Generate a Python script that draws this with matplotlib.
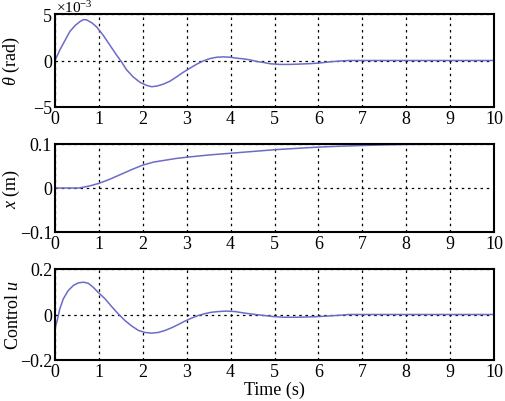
import numpy as np
import matplotlib
matplotlib.use('Agg')
import matplotlib.pyplot as plt
from matplotlib.ticker import FuncFormatter

plt.rcParams['font.family'] = ['Liberation Serif', 'DejaVu Serif']
plt.rcParams['mathtext.fontset'] = 'custom'
plt.rcParams['mathtext.rm'] = 'Liberation Serif'
plt.rcParams['mathtext.it'] = 'Liberation Serif:italic'
plt.rcParams['mathtext.bf'] = 'Liberation Serif:bold'
plt.rcParams['font.size'] = 13

# pendulum angle, in units of 1e-3 rad
t_theta = [0, 0.11, 0.23, 0.34, 0.46, 0.57, 0.65, 0.72, 0.84, 0.95, 1.1, 1.25, 1.4, 1.52, 1.63, 1.78,
           1.94, 2.09, 2.2, 2.32, 2.47, 2.62, 2.77, 2.92, 3.08, 3.23, 3.38, 3.53, 3.68, 3.83, 3.99, 4.14,
           4.29, 4.44, 4.59, 4.75, 4.9, 5.12, 5.35, 5.54, 5.8, 6.0, 6.25, 6.5, 6.7, 7, 8, 9, 10]
theta_milli = [0, 1.13, 2.18, 3.13, 3.77, 4.19, 4.4, 4.37, 4.05, 3.6, 2.7, 1.65, 0.6, -0.18, -1.0, -1.76,
               -2.36, -2.68, -2.82, -2.75, -2.54, -2.22, -1.76, -1.27, -0.81, -0.39, -0.04, 0.21, 0.35, 0.39,
               0.35, 0.25, 0.18, 0.07, -0.1, -0.21, -0.35, -0.42, -0.42, -0.39, -0.34, -0.28, -0.15, -0.05,
               0, 0, 0, 0, 0]

# cart position (m)
t_x = [0, 0.3, 0.55, 0.8, 1.0, 1.25, 1.5, 1.75, 2.0, 2.25, 2.5, 2.75, 3.0, 3.5, 4.0, 4.5, 5.0, 5.5, 6.0,
       6.5, 7.0, 7.5, 8.0, 8.5, 9.0, 9.5, 10.0]
x_pos = [0, 0, 0, 0.005, 0.0105, 0.02, 0.031, 0.042, 0.052, 0.059, 0.063, 0.067, 0.070, 0.075, 0.079, 0.083,
         0.087, 0.090, 0.093, 0.095, 0.0966, 0.098, 0.099, 0.0993, 0.0995, 0.0998, 0.1]

# control input
t_u = [0, 0.05, 0.11, 0.19, 0.3, 0.42, 0.53, 0.65, 0.76, 0.87, 0.98, 1.14, 1.29, 1.44, 1.59, 1.75, 1.9,
       2.05, 2.2, 2.35, 2.51, 2.66, 2.81, 2.96, 3.11, 3.27, 3.42, 3.57, 3.72, 3.91, 4.1, 4.29, 4.52, 4.75,
       4.97, 5.2, 5.54, 5.9, 6.2, 6.5, 6.7, 7, 8, 9, 10]
u = [-0.063, -0.026, 0.025, 0.069, 0.105, 0.128, 0.139, 0.142, 0.137, 0.12, 0.098, 0.069, 0.035, 0.003,
     -0.026, -0.051, -0.07, -0.079, -0.082, -0.079, -0.07, -0.058, -0.044, -0.029, -0.016, -0.004, 0.004,
     0.01, 0.013, 0.015, 0.013, 0.007, 0.001, -0.004, -0.009, -0.012, -0.012, -0.01, -0.007, -0.003, 0,
     0, 0, 0, 0]

line_color = '#6b6bc8'

fig = plt.figure(figsize=(5.05, 4.02), dpi=100)
W, H = 505.0, 402.0
left, right = 55, 494
boxes = [(15, 108), (145, 233), (270, 361)]
axes = [fig.add_axes([left / W, 1 - b / H, (right - left) / W, (b - t) / H]) for t, b in boxes]

axes[0].plot(t_theta, np.array(theta_milli) * 1e-3, color=line_color, lw=1.1)
axes[0].set_ylim(-0.005, 0.005)
axes[0].set_yticks([-0.005, 0, 0.005])
axes[0].yaxis.set_major_formatter(FuncFormatter(lambda v, pos: f'{v * 1e3:g}'.replace('-', '\u2212')))
axes[0].set_ylabel(r'$\theta$ (rad)')
fig.text(56 / W, 1.0, r'$\times10^{-3}$', fontsize=11, va='top', ha='left')

axes[1].plot(t_x, x_pos, color=line_color, lw=1.1)
axes[1].set_ylim(-0.1, 0.1)
axes[1].set_yticks([-0.1, 0, 0.1])
axes[1].set_yticklabels(['\u22120.1', '0', '0.1'])
axes[1].set_ylabel(r'$x$ (m)')

axes[2].plot(t_u, u, color=line_color, lw=1.1)
axes[2].set_ylim(-0.2, 0.2)
axes[2].set_yticks([-0.2, 0, 0.2])
axes[2].set_yticklabels(['\u22120.2', '0', '0.2'])
axes[2].set_ylabel(r'Control $u$')
axes[2].set_xlabel('Time (s)', labelpad=1)

for ax in axes:
    ax.set_xlim(0, 10)
    ax.set_xticks(range(11))
    ax.grid(True, color='black', linestyle=(0, (2, 3)), linewidth=0.9)
    ax.tick_params(direction='in', length=0, pad=2)
    for s in ax.spines.values():
        s.set_linewidth(1.5)
    ax.yaxis.set_label_coords(-0.075, 0.5)

fig.savefig('out.png', dpi=100)
